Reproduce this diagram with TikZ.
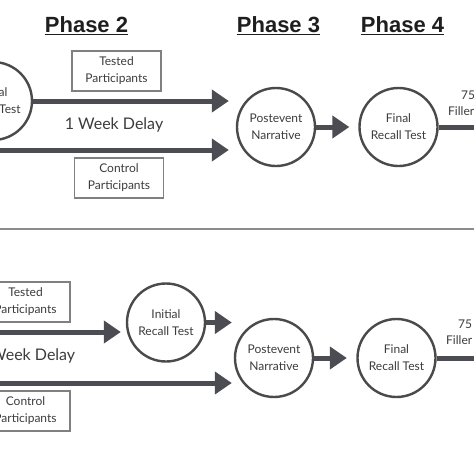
\documentclass[tikz,border=0pt]{standalone}
\usepackage{fontspec}
\setmainfont{Lato}
\newfontfamily\headfont{Liberation Sans}
\usetikzlibrary{arrows.meta}
\definecolor{arrgray}{HTML}{4B4D53}
\definecolor{circgray}{HTML}{4A4A4A}
\definecolor{boxgray}{HTML}{808080}
\definecolor{txtgray}{HTML}{3C3C3C}
\definecolor{sepgray}{HTML}{8C8C8C}
\definecolor{headgray}{HTML}{1E1E1E}
\begin{document}
\begin{tikzpicture}[x=1pt,y=-1pt,
  circ/.style={circle,draw=circgray,line width=2.4pt,minimum size=78pt,inner sep=0pt,align=center,font=\fontsize{12}{17}\selectfont,text=txtgray},
  pbox/.style={rectangle,draw=boxgray,line width=1.2pt,minimum width=89pt,minimum height=40pt,align=center,inner sep=0pt,font=\fontsize{12}{17}\selectfont,text=txtgray},
  arr/.style={draw=arrgray,line width=5pt,-{Triangle[length=17pt,width=22pt]}},
  link/.style={draw=arrgray,line width=5pt},
  phase/.style={font=\headfont\bfseries\fontsize{22}{26}\selectfont,text=headgray,anchor=base,inner sep=0pt},
  uline/.style={draw=headgray,line width=1.8pt},
  delay/.style={font=\fontsize{16}{19}\selectfont,text=txtgray,inner sep=0pt},
  note/.style={font=\fontsize{12}{17}\selectfont,text=txtgray,anchor=west,inner sep=0pt}
]
\useasboundingbox (0,0) rectangle (474,474);
\clip (0,0) rectangle (474,474);
\fill[white] (0,0) rectangle (474,474);

% ---- titles
\node[phase] (ph2) at (86.5,32) {Phase 2};
\node[phase] (ph3) at (278.5,32) {Phase 3};
\node[phase] (ph4) at (402.5,32) {Phase 4};
\foreach \p in {ph2,ph3,ph4}
  \draw[uline] ([yshift=-2.5pt]\p.base west) -- ([yshift=-2.5pt]\p.base east);

% ---- top section
\node[circ] (I1) at (-7,101) {Initial\\Recall Test};
\node[pbox] (T1) at (116.5,71) {Tested\\Participants};
\node[delay] (d1) at (114,125) {1 Week Delay};
\node[pbox] (C1) at (119,178) {Control\\Participants};
\node[circ] (P1) at (276,127) {Postevent\\Narrative};
\node[circ] (F1) at (398.5,127) {Final\\Recall Test};
\coordinate (s2) at (-10,150);
\coordinate (e1) at (485,128);
\draw[arr,shorten >=7pt] (I1.east) -- (I1.east -| P1.west);
\draw[arr,shorten >=7pt] (s2) -- (s2 -| P1.west);
\draw[arr,shorten >=9pt] (P1.east) -- (F1.west);
\draw[link] (F1.east) -- (F1.east -| e1);
\node[note] (n75a) at (461,95) {75};
\node[note] (fila) at (448,111) {Filler};

% ---- separator
\coordinate (sepL) at (-5,229);
\coordinate (sepR) at (480,229);
\draw[sepgray,line width=2.5pt] (sepL) -- (sepR);

% ---- bottom section
\node[pbox] (T2) at (25.5,302) {Tested\\Participants};
\node[circ] (I2) at (166,322.5) {Initial\\Recall Test};
\node[delay] (d2) at (26,356) {1 Week Delay};
\node[pbox] (C2) at (25.5,411) {Control\\Participants};
\node[circ] (P2) at (274,358) {Postevent\\Narrative};
\node[circ] (F2) at (396.5,358) {Final\\Recall Test};
\coordinate (s3) at (-10,332);
\coordinate (s4) at (-10,383);
\coordinate (e2) at (485,359);
\draw[arr,shorten >=5pt] (s3) -- (s3 -| I2.west);
\draw[arr,shorten >=2pt] (I2.east) -- (I2.east -| P2.west);
\draw[arr,shorten >=2pt] (s4) -- (s4 -| P2.west);
\draw[arr,shorten >=9.5pt] (P2.east) -- (F2.west);
\draw[link] (F2.east) -- (F2.east -| e2);
\node[note] (n75b) at (458,324) {75};
\node[note] (filb) at (446,340) {Filler};
\end{tikzpicture}
\end{document}
